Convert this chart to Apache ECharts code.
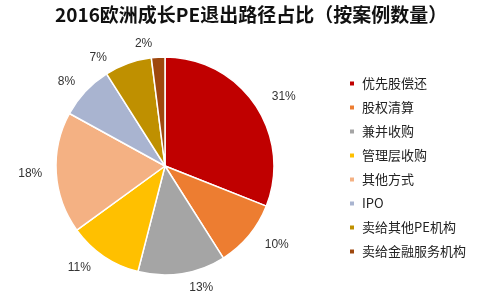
<!DOCTYPE html>
<html><head><meta charset="utf-8">
<script src="https://cdn.jsdelivr.net/npm/echarts@6/dist/echarts.min.js"></script>
<style>html,body{margin:0;padding:0;background:#fff}#c{width:500px;height:300px}</style>
</head><body><div id="c"></div>
<script>
const titleText = '2016欧洲成长PE退出路径占比（按案例数量）';
const categories = ['优先股偿还','股权清算','兼并收购','管理层收购','其他方式','IPO','卖给其他PE机构','卖给金融服务机构'];
const values = [31,10,13,11,18,8,7,2];
const colors = ['#C00000','#ED7D31','#A5A5A5','#FFC000','#F4B183','#A9B4D0','#BF9000','#9E480E'];
const chart = echarts.init(document.getElementById('c'));
chart.setOption({
  animation:false,
  backgroundColor:'#fff',
  color:colors,
  title:{text:titleText,left:50,top:0,textStyle:{fontFamily:'Noto Sans CJK SC',fontSize:19,fontWeight:'bold',color:'#111'}},
  legend:{orient:'vertical',left:343,top:72,itemWidth:6,itemHeight:6,itemGap:11,icon:'rect',
    textStyle:{fontFamily:'Noto Sans CJK SC',fontSize:13,color:'#222',padding:[0,0,0,2]},
    data:categories},
  series:[{type:'pie',center:[165,166],radius:[0,109],startAngle:90,clockwise:true,
    itemStyle:{borderColor:'#fff',borderWidth:1.5},
    label:{show:true,position:'outside',formatter:'{c}%',fontFamily:'Liberation Sans',fontSize:12,color:'#333'},
    labelLine:{show:false,length:14,length2:0},
    data:categories.map((n,i)=>({name:n,value:values[i]}))}]
});
</script></body></html>
